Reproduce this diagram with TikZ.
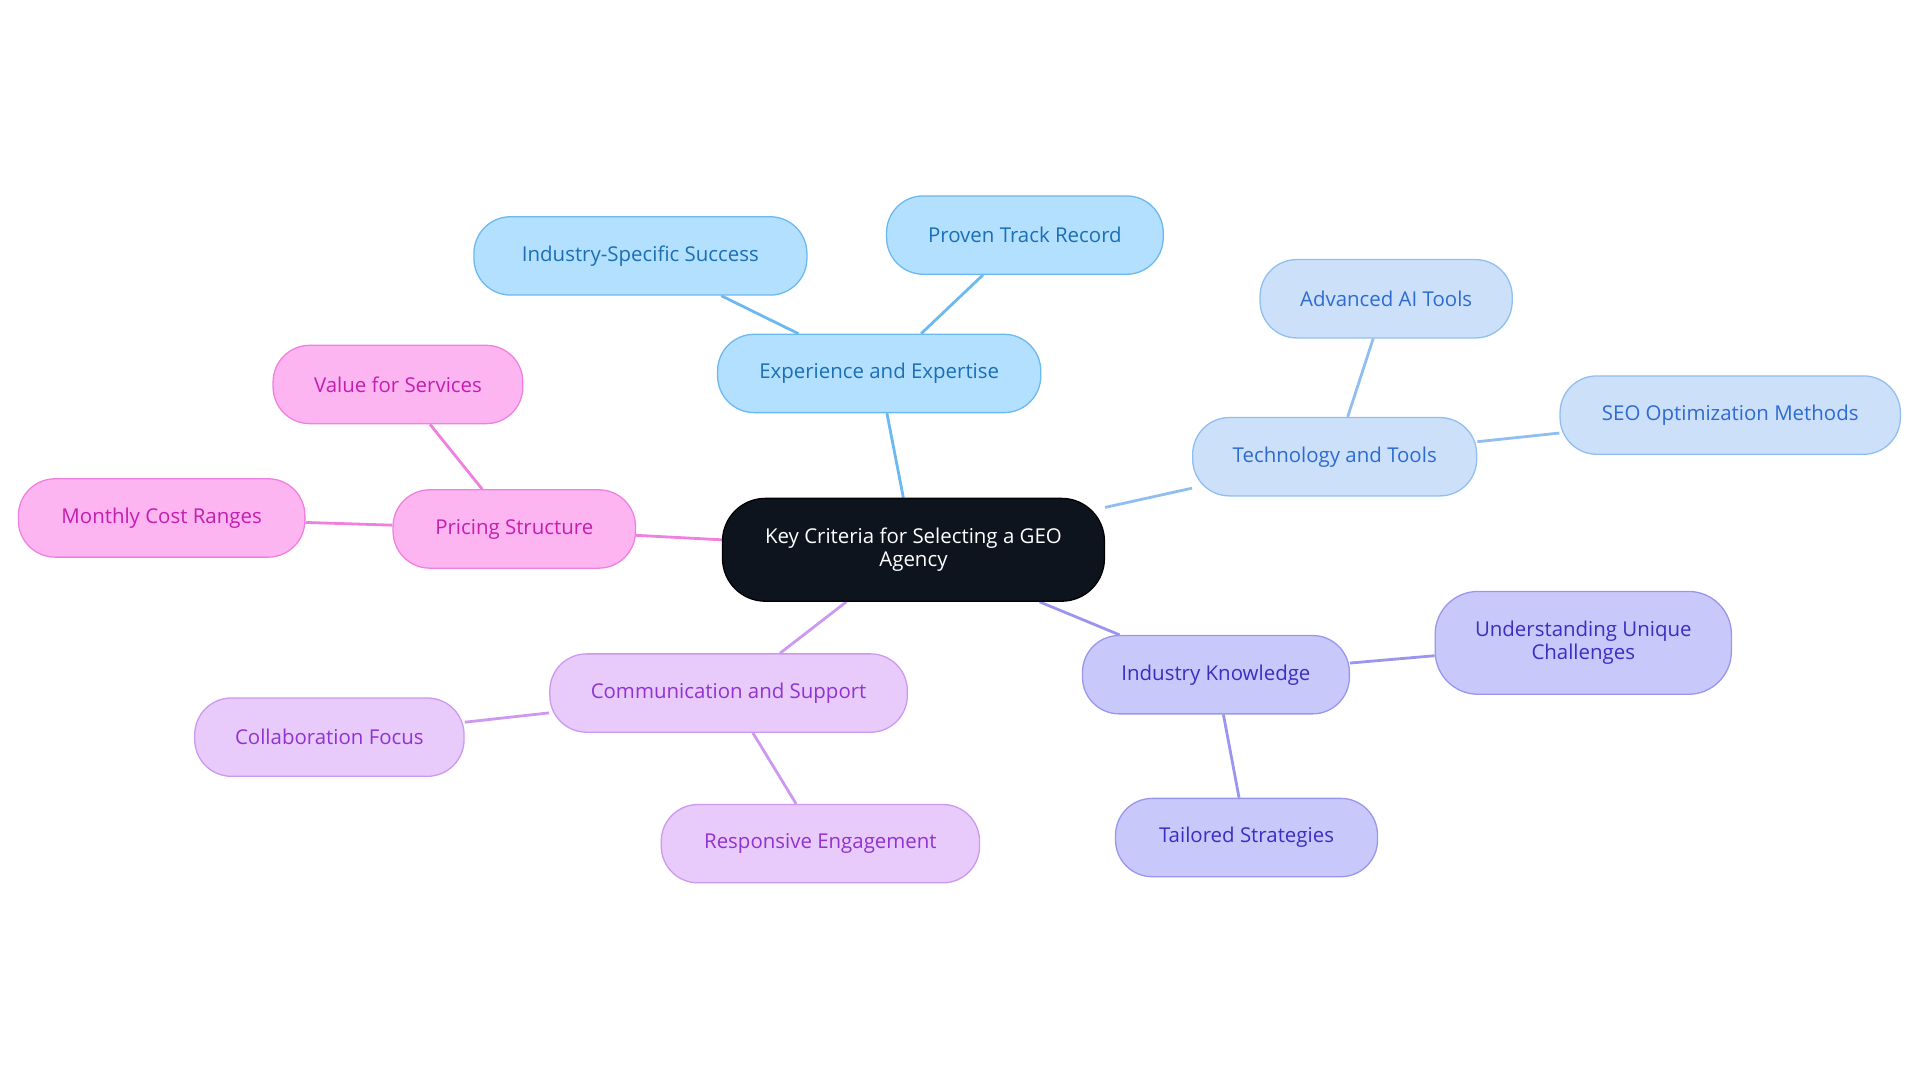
\documentclass[tikz,border=0pt]{standalone}
\usepackage{fontspec}
\setmainfont{Open Sans}
\usetikzlibrary{backgrounds}
\definecolor{cfill}{HTML}{0D141E}
\definecolor{bfill}{HTML}{B3E0FF}\definecolor{bdraw}{HTML}{6CB8F0}\definecolor{btext}{HTML}{1A6FB5}
\definecolor{tfill}{HTML}{CCE0FA}\definecolor{tdraw}{HTML}{90BEF0}\definecolor{ttext}{HTML}{2E6BD1}
\definecolor{ifill}{HTML}{C9C8FA}\definecolor{idraw}{HTML}{9A95EE}\definecolor{itext}{HTML}{3A2FC0}
\definecolor{mfill}{HTML}{E8CBFB}\definecolor{mdraw}{HTML}{CC98F0}\definecolor{mtext}{HTML}{9033D0}
\definecolor{pfill}{HTML}{FDB5F2}\definecolor{pdraw}{HTML}{F080E0}\definecolor{ptext}{HTML}{C41EAE}
\tikzset{
 box/.style={rounded corners=0.6cm, minimum height=1.28cm, align=center, font=\fontsize{9.5}{11}\selectfont, line width=0.6pt},
 bb/.style={box, fill=bfill, draw=bdraw, text=btext},
 tb/.style={box, fill=tfill, draw=tdraw, text=ttext},
 ib/.style={box, fill=ifill, draw=idraw, text=itext},
 mb/.style={box, fill=mfill, draw=mdraw, text=mtext},
 pb/.style={box, fill=pfill, draw=pdraw, text=ptext},
 ed/.style={line width=1.3pt},
}
\begin{document}
\begin{tikzpicture}[x=0.02cm,y=-0.02cm]
\useasboundingbox (0,0) rectangle (1568,884);
\node[box, fill=cfill, draw=black, text=white, minimum width=6.24cm, minimum height=1.68cm, rounded corners=0.7cm] (c) at (746,449) {Key Criteria for Selecting a GEO\\Agency};
\node[bb, minimum width=5.28cm] (e) at (718,305) {Experience and Expertise};
\node[bb, minimum width=5.44cm] (e1) at (523,209) {Industry-Specific Success};
\node[bb, minimum width=4.52cm] (e2) at (837,192) {Proven Track Record};
\node[tb, minimum width=4.64cm] (t) at (1090,373) {Technology and Tools};
\node[tb, minimum width=4.12cm] (t1) at (1132,244) {Advanced AI Tools};
\node[tb, minimum width=5.56cm] (t2) at (1413,339) {SEO Optimization Methods};
\node[ib, minimum width=4.36cm] (i) at (993,551) {Industry Knowledge};
\node[ib, minimum width=4.84cm, minimum height=1.68cm, rounded corners=0.7cm] (i1) at (1293,525) {Understanding Unique\\Challenges};
\node[ib, minimum width=4.28cm] (i2) at (1018,684) {Tailored Strategies};
\node[mb, minimum width=5.84cm] (m) at (595,566) {Communication and Support};
\node[mb, minimum width=4.4cm] (m1) at (269,602) {Collaboration Focus};
\node[mb, minimum width=5.2cm] (m2) at (670,689) {Responsive Engagement};
\node[pb, minimum width=3.96cm] (p) at (420,432) {Pricing Structure};
\node[pb, minimum width=4.08cm] (p1) at (325,314) {Value for Services};
\node[pb, minimum width=4.68cm] (p2) at (132,423) {Monthly Cost Ranges};
\begin{scope}[on background layer]
\draw[ed, bdraw] (c) -- (e) (e) -- (e1) (e) -- (e2);
\draw[ed, tdraw] (c) -- (t) (t) -- (t1) (t) -- (t2);
\draw[ed, idraw] (c) -- (i) (i) -- (i1) (i) -- (i2);
\draw[ed, mdraw] (c) -- (m) (m) -- (m1) (m) -- (m2);
\draw[ed, pdraw] (c) -- (p) (p) -- (p1) (p) -- (p2);
\end{scope}
\end{tikzpicture}
\end{document}
